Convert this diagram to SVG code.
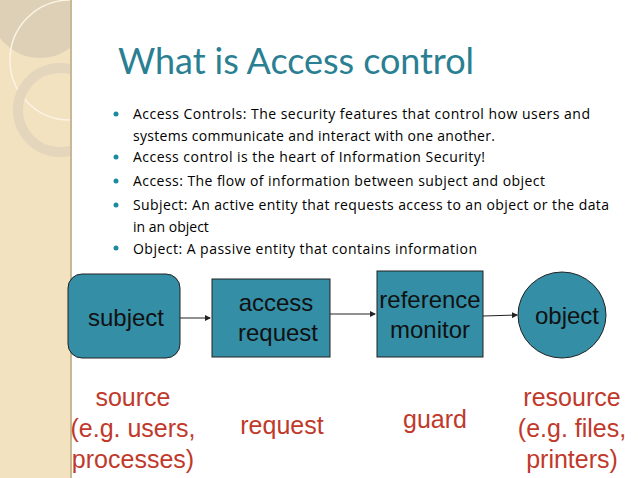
<svg xmlns="http://www.w3.org/2000/svg" width="638" height="478" viewBox="0 0 638 478">
<style>
.b{font-family:"Open Sans","Liberation Sans",sans-serif;font-size:14px;fill:#000}
.d{fill:#1d8aa0}
.n{fill:#338ea6;stroke:#222;stroke-width:1}
.t{font-family:"Liberation Sans",Arial,sans-serif;font-size:24px;fill:#111;text-anchor:middle}
.r{font-family:"Liberation Sans",Arial,sans-serif;font-size:25px;fill:#c0392b;text-anchor:middle}
.c{stroke:#222;stroke-width:1;fill:none;marker-end:url(#a)}
</style>
<defs><marker id="a" markerWidth="6" markerHeight="6" refX="5" refY="3" orient="auto"><path d="M0,0L6,3L0,6z" fill="#222"/></marker>
<clipPath id="s"><rect x="0" y="0" width="70" height="478"/></clipPath></defs>
<rect width="638" height="478" fill="#fff"/>
<g id="strip">
<rect x="0" y="0" width="70" height="478" fill="#f3e2c0"/>
<g clip-path="url(#s)">
<circle cx="40" cy="8" r="50" fill="#ddd0b6"/>
<circle cx="70" cy="60" r="60" fill="none" stroke="#fbf3e4" stroke-width="1.5"/>
<circle cx="60" cy="110" r="42" fill="none" stroke="#e3d6bd" stroke-width="10"/>
</g>
<rect x="70" y="0" width="2" height="478" fill="#c8b896"/>
</g>
<text x="118" y="74" font-family="Lato,'Liberation Sans',sans-serif" font-size="36" fill="#2a7f92" textLength="356">What is Access control</text>
<g class="b">
<circle class="d" cx="116" cy="114" r="2.5"/><circle class="d" cx="116" cy="157" r="2.5"/><circle class="d" cx="116" cy="181" r="2.5"/><circle class="d" cx="116" cy="205" r="2.5"/><circle class="d" cx="116" cy="248" r="2.5"/>
<text x="133" y="119" textLength="457">Access Controls: The security features that control how users and</text>
<text x="133" y="141" textLength="362">systems communicate and interact with one another.</text>
<text x="133" y="162" textLength="352">Access control is the heart of Information Security!</text>
<text x="133" y="186" textLength="412">Access: The flow of information between subject and object</text>
<text x="133" y="210" textLength="476">Subject: An active entity that requests access to an object or the data</text>
<text x="133" y="232">in an object</text>
<text x="133" y="254" textLength="344">Object: A passive entity that contains information</text>
</g>
<g id="subject"><rect class="n" x="68" y="274" width="112" height="84" rx="14"/><text class="t" x="126" y="326">subject</text></g>
<g id="access"><rect class="n" x="212" y="279" width="118" height="78"/><text class="t" x="276" y="311">access</text><text class="t" x="278" y="341">request</text></g>
<g id="monitor"><rect class="n" x="377" y="271" width="106" height="86"/><text class="t" x="430" y="308">reference</text><text class="t" x="430" y="338">monitor</text></g>
<g id="object"><ellipse class="n" cx="562" cy="315" rx="44" ry="43"/><text class="t" x="567" y="324">object</text></g>
<g id="connectors">
<path class="c" d="M180,318H210"/><path class="c" d="M330,314H375"/><path class="c" d="M483,316L517,315"/>
</g>
<g id="labels">
<text class="r" x="133" y="406">source</text><text class="r" x="133" y="437">(e.g. users,</text><text class="r" x="133" y="468">processes)</text>
<text class="r" x="282" y="434">request</text>
<text class="r" x="435" y="428">guard</text>
<text class="r" x="572" y="406">resource</text><text class="r" x="572" y="437">(e.g. files,</text><text class="r" x="572" y="468">printers)</text>
</g>
</svg>
